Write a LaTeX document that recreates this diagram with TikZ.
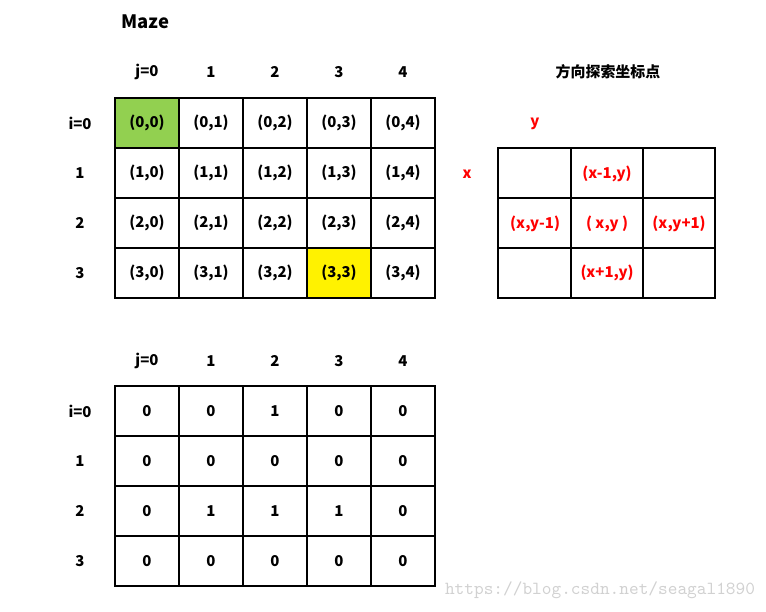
\documentclass[tikz,border=0pt]{standalone}
\usepackage{fontspec}
\setmainfont{Noto Sans CJK SC}
\usetikzlibrary{positioning}
\definecolor{cellgreen}{RGB}{146,208,80}
\tikzstyle{cell} = [draw=black,line width=0.6pt]
\tikzstyle{frame} = [draw=black,line width=1.2pt]
\tikzstyle{lbl} = [font=\fontsize{8.5}{10}\selectfont\bfseries,inner sep=0pt]
\tikzstyle{redlbl} = [lbl,text=red]

\begin{document}
\begin{tikzpicture}[x=0.2mm,y=-0.2mm]
\useasboundingbox (0,0) rectangle (766,611);

\node[lbl,font=\fontsize{10.5}{12}\selectfont\bfseries] (title) at (145,22) {Maze};

% grid of coordinates
\fill[cellgreen] (115,98) rectangle (179,148);
\fill[yellow] (307,248) rectangle (371,298);
\foreach \i in {0,...,3}
  \foreach \j in {0,...,4}{
    \draw[cell] (115+64*\j,98+50*\i) rectangle ++(64,50);
    \node[lbl] (m\i\j) at (147+64*\j,123+50*\i) {(\i,\j)};
  }
\draw[frame] (115,98) rectangle (435,298);
\node[lbl] (hj0) at (147,72) {j=0};
\foreach \j in {1,...,4}
  \node[lbl] (hj\j) at (147+64*\j,72) {\j};
\node[lbl] (hi0) at (80,123) {i=0};
\foreach \i in {1,...,3}
  \node[lbl] (hi\i) at (80,123+50*\i) {\i};

% grid of values
\foreach \v [count=\k from 0] in {0,0,1,0,0, 0,0,0,0,0, 0,1,1,1,0, 0,0,0,0,0}{
  \pgfmathtruncatemacro\i{int(\k/5)}
  \pgfmathtruncatemacro\j{mod(\k,5)}
  \draw[cell] (115+64*\j,386+50*\i) rectangle ++(64,50);
  \node[lbl] (v\i\j) at (147+64*\j,411+50*\i) {\v};
}
\draw[frame] (115,386) rectangle (435,586);
\node[lbl] (gj0) at (147,361) {j=0};
\foreach \j in {1,...,4}
  \node[lbl] (gj\j) at (147+64*\j,361) {\j};
\node[lbl] (gi0) at (80,411) {i=0};
\foreach \i in {1,...,3}
  \node[lbl] (gi\i) at (80,411+50*\i) {\i};

% direction grid
\node[lbl] (dirtitle) at (608,72) {方向探索坐标点};
\draw[cell] (571,148) -- (571,298);
\draw[cell] (643,148) -- (643,298);
\draw[cell] (498,198) -- (715,198);
\draw[cell] (498,248) -- (715,248);
\draw[frame] (498,148) rectangle (715,298);
\node[redlbl] (ylbl) at (535,124) {y};
\node[redlbl] (xlbl) at (467,174) {x};
\node[redlbl] (up) at (607,174) {(x-1,y)};
\node[redlbl] (left) at (535,224) {(x,y-1)};
\node[redlbl] (mid) at (607,224) {( x,y )};
\node[redlbl] (right) at (679,224) {(x,y+1)};
\node[redlbl] (down) at (607,273) {(x+1,y)};

\node[font=\ttfamily\fontsize{10.5}{12}\selectfont,text=black!18,inner sep=0pt] (mark) at (600,590) {https://blog.csdn.net/seagal1890};
\end{tikzpicture}
\end{document}
